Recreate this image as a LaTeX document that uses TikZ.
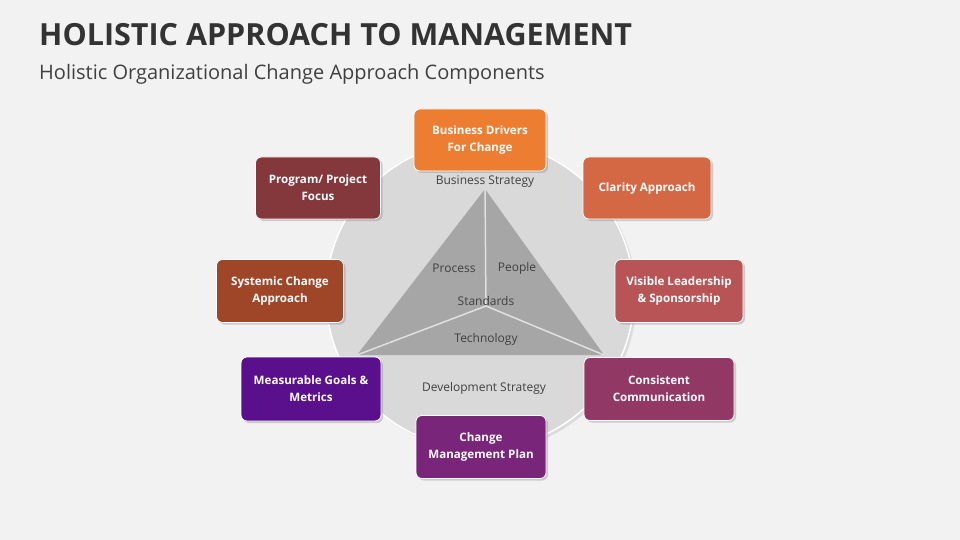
\documentclass[tikz,border=0pt]{standalone}
\usepackage{fontspec}
\setmainfont{Open Sans}
\usetikzlibrary{shadows}
\begin{document}
\begin{tikzpicture}[x=1pt,y=-1pt,
 box/.style={rounded corners=6pt,draw=white,line width=0.8pt,text=white,font=\fontsize{11.6}{17}\selectfont\bfseries,align=center,drop shadow={opacity=0.35,shadow xshift=2pt,shadow yshift=-2pt}},
 lab/.style={text=black!75,font=\fontsize{12}{14}\selectfont}]
\useasboundingbox[fill=black!5] (0,0) rectangle (960,540);
\node[anchor=west,inner sep=0pt,font=\fontsize{30.5}{36}\selectfont\bfseries,text=black!80] (title) at (39,35) {HOLISTIC APPROACH TO MANAGEMENT};
\node[anchor=west,inner sep=0pt,font=\fontsize{20}{24}\selectfont,text=black!75] (sub) at (39,74) {Holistic Organizational Change Approach Components};
\fill[black!15,draw=white,line width=1.5pt,drop shadow={opacity=0.2}] (480,295) circle (154);
\coordinate (T) at (485,189); \coordinate (L) at (357,355); \coordinate (R) at (604,355); \coordinate (C) at (486,306);
\fill[black!35] (T)--(L)--(R)--cycle;
\draw[black!12,line width=1.5pt] (C)--(T) (C)--(L) (C)--(R);
\node[lab] (l1) at (485,182) {Business Strategy};
\node[lab] (l2) at (454,268) {Process};
\node[lab] (l3) at (517,268) {People};
\node[lab] (l4) at (486,301) {Standards};
\node[lab] (l5) at (486,339) {Technology};
\node[lab] (l6) at (484,388) {Development Strategy};
\node[box,fill={rgb,255:red,237;green,125;blue,49},minimum width=132,minimum height=62] (n1) at (480,140) {Business Drivers\\For Change};
\node[box,fill={rgb,255:red,212;green,104;blue,68},minimum width=128,minimum height=62] (n2) at (647,188) {Clarity Approach};
\node[box,fill={rgb,255:red,184;green,84;blue,86},minimum width=128,minimum height=63] (n3) at (679,291) {Visible Leadership\\\& Sponsorship};
\node[box,fill={rgb,255:red,145;green,56;blue,100},minimum width=150,minimum height=63] (n4) at (659,389) {Consistent\\Communication};
\node[box,fill={rgb,255:red,121;green,38;blue,122},minimum width=130,minimum height=63] (n5) at (481,447) {Change\\Management Plan};
\node[box,fill={rgb,255:red,90;green,16;blue,140},minimum width=140,minimum height=64] (n6) at (311,389) {Measurable Goals \&\\Metrics};
\node[box,fill={rgb,255:red,160;green,70;blue,40},minimum width=127,minimum height=63] (n7) at (280,291) {Systemic Change\\Approach};
\node[box,fill={rgb,255:red,133;green,56;blue,60},minimum width=125,minimum height=62] (n8) at (318,188) {Program/ Project\\Focus};
\end{tikzpicture}
\end{document}
